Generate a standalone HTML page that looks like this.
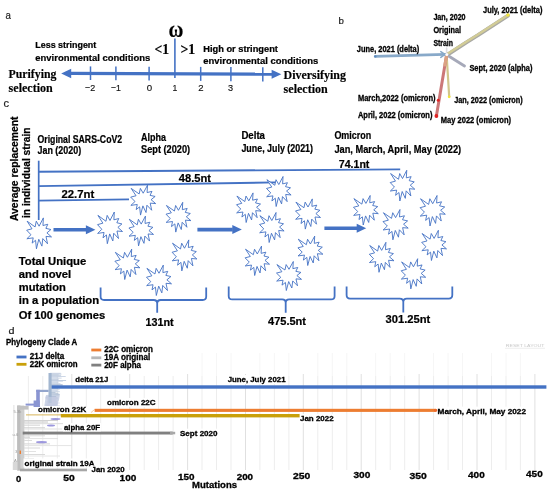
<!DOCTYPE html>
<html><head><meta charset="utf-8"><title>Figure</title>
<style>html,body{margin:0;padding:0;background:#fff;} svg{display:block;}</style></head>
<body><svg width="550" height="493" viewBox="0 0 550 493">
<rect width="550" height="493" fill="#fff"/>
<text x="5.6" y="18.8" font-family="'Liberation Sans', Arial, sans-serif" font-size="11.2" font-weight="normal" fill="#222" textLength="5.4" lengthAdjust="spacingAndGlyphs" stroke="#222" stroke-width="0.2">a</text>
<text x="35.3" y="48.2" font-family="'Liberation Sans', Arial, sans-serif" font-size="8.6" font-weight="bold" fill="#000" textLength="61.0" lengthAdjust="spacingAndGlyphs" stroke="#000" stroke-width="0.22">Less stringent</text>
<text x="35.3" y="61.0" font-family="'Liberation Sans', Arial, sans-serif" font-size="9.3" font-weight="bold" fill="#000" textLength="115.0" lengthAdjust="spacingAndGlyphs" stroke="#000" stroke-width="0.22">environmental conditions</text>
<text x="203.3" y="51.6" font-family="'Liberation Sans', Arial, sans-serif" font-size="8.6" font-weight="bold" fill="#000" textLength="74.6" lengthAdjust="spacingAndGlyphs" stroke="#000" stroke-width="0.22">High or stringent</text>
<text x="203.3" y="64.0" font-family="'Liberation Sans', Arial, sans-serif" font-size="9.3" font-weight="bold" fill="#000" textLength="115.0" lengthAdjust="spacingAndGlyphs" stroke="#000" stroke-width="0.22">environmental conditions</text>
<text x="8.6" y="78.3" font-family="'Liberation Serif', 'Times New Roman', serif" font-size="12" font-weight="bold" fill="#000" textLength="47.8" lengthAdjust="spacingAndGlyphs" stroke="#000" stroke-width="0.15">Purifying</text>
<text x="8.6" y="92.0" font-family="'Liberation Serif', 'Times New Roman', serif" font-size="12" font-weight="bold" fill="#000" textLength="44.2" lengthAdjust="spacingAndGlyphs" stroke="#000" stroke-width="0.15">selection</text>
<text x="283.6" y="78.9" font-family="'Liberation Serif', 'Times New Roman', serif" font-size="12" font-weight="bold" fill="#000" textLength="62.4" lengthAdjust="spacingAndGlyphs" stroke="#000" stroke-width="0.15">Diversifying</text>
<text x="283.6" y="93.1" font-family="'Liberation Serif', 'Times New Roman', serif" font-size="12" font-weight="bold" fill="#000" textLength="44.2" lengthAdjust="spacingAndGlyphs" stroke="#000" stroke-width="0.15">selection</text>
<text x="168.5" y="37.1" font-family="'Liberation Serif', 'Times New Roman', serif" font-size="23" font-weight="bold" fill="#000" textLength="14.9" lengthAdjust="spacingAndGlyphs" stroke="#000" stroke-width="0.15">&#969;</text>
<text x="154.6" y="54.0" font-family="'Liberation Serif', 'Times New Roman', serif" font-size="14.4" font-weight="bold" fill="#000" textLength="14.6" lengthAdjust="spacingAndGlyphs" stroke="#000" stroke-width="0.15">&lt;1</text>
<text x="180.4" y="54.0" font-family="'Liberation Serif', 'Times New Roman', serif" font-size="14.4" font-weight="bold" fill="#000" textLength="14.8" lengthAdjust="spacingAndGlyphs" stroke="#000" stroke-width="0.15">&gt;1</text>
<line x1="70" y1="73.3" x2="273" y2="74.2" stroke="#4472c4" stroke-width="3.2"/>
<polygon points="71.2,68.7 61.2,73.4 71.2,78.2" fill="#4472c4"/>
<polygon points="271.6,69.7 281.3,74.3 271.6,78.8" fill="#4472c4"/>
<line x1="90.5" y1="66.40" x2="90.5" y2="80.00" stroke="#4472c4" stroke-width="1.5"/>
<line x1="115.9" y1="66.52" x2="115.9" y2="80.21" stroke="#4472c4" stroke-width="1.5"/>
<line x1="149.1" y1="66.67" x2="149.1" y2="80.47" stroke="#4472c4" stroke-width="1.5"/>
<line x1="200.7" y1="66.90" x2="200.7" y2="80.89" stroke="#4472c4" stroke-width="1.5"/>
<line x1="230.9" y1="67.03" x2="230.9" y2="81.13" stroke="#4472c4" stroke-width="1.5"/>
<line x1="262.8" y1="67.18" x2="262.8" y2="81.38" stroke="#4472c4" stroke-width="1.5"/>
<line x1="174.9" y1="38.5" x2="174.9" y2="78" stroke="#4472c4" stroke-width="1.6"/>
<text x="85.0" y="91.0" font-family="'Liberation Sans', Arial, sans-serif" font-size="9.6" font-weight="normal" fill="#111" textLength="10.2" lengthAdjust="spacingAndGlyphs" stroke="#111" stroke-width="0.15">&#8722;2</text>
<text x="110.9" y="91.0" font-family="'Liberation Sans', Arial, sans-serif" font-size="9.6" font-weight="normal" fill="#111" textLength="10.0" lengthAdjust="spacingAndGlyphs" stroke="#111" stroke-width="0.15">&#8722;1</text>
<text x="146.8" y="91.0" font-family="'Liberation Sans', Arial, sans-serif" font-size="9.6" font-weight="normal" fill="#111" textLength="5.4" lengthAdjust="spacingAndGlyphs" stroke="#111" stroke-width="0.15">0</text>
<text x="172.6" y="91.0" font-family="'Liberation Sans', Arial, sans-serif" font-size="9.6" font-weight="normal" fill="#111" textLength="4.8" lengthAdjust="spacingAndGlyphs" stroke="#111" stroke-width="0.15">1</text>
<text x="198.2" y="91.0" font-family="'Liberation Sans', Arial, sans-serif" font-size="9.6" font-weight="normal" fill="#111" textLength="5.3" lengthAdjust="spacingAndGlyphs" stroke="#111" stroke-width="0.15">2</text>
<text x="227.9" y="91.0" font-family="'Liberation Sans', Arial, sans-serif" font-size="9.6" font-weight="normal" fill="#111" textLength="5.1" lengthAdjust="spacingAndGlyphs" stroke="#111" stroke-width="0.15">3</text>
<text x="338.6" y="23.6" font-family="'Liberation Sans', Arial, sans-serif" font-size="9.4" font-weight="normal" fill="#222" textLength="5.4" lengthAdjust="spacingAndGlyphs" stroke="#222" stroke-width="0.2">b</text>
<g stroke-linecap="round" stroke-linejoin="round" fill="none">
<line x1="446.6" y1="48" x2="446.6" y2="54" stroke="#dcdce0" stroke-width="1.6"/>
<path d="M448,54.4 L466,42.6 L478,35.2 L488,28.6 L508,15.6" stroke="#a9a9a4" stroke-width="3.8"/>
<path d="M448,53.6 L466,41.9 L478,34.4 L488,27.9 L508,14.9" stroke="#d2cc96" stroke-width="2.4"/>
<line x1="447" y1="55" x2="464.5" y2="66" stroke="#a6a9b9" stroke-width="2.8"/>
<line x1="446.6" y1="55" x2="449.2" y2="96.5" stroke="#d2c68c" stroke-width="2.2"/>
<line x1="446.6" y1="55" x2="436.4" y2="116" stroke="#cc7878" stroke-width="3"/>
<line x1="446.6" y1="55" x2="444.9" y2="65" stroke="#dba283" stroke-width="3"/>
<line x1="375.2" y1="56.3" x2="445" y2="54.4" stroke="#88a9c9" stroke-width="2.8"/>
<polyline points="440.8,51.6 445,54.4 440.8,57.4" stroke="#88a9c9" stroke-width="1.6"/>
</g>
<circle cx="508" cy="14.9" r="1.7" fill="#f2e43a"/>
<circle cx="449.2" cy="96.8" r="1.4" fill="#f2e43a"/>
<circle cx="438.3" cy="100.2" r="1.5" fill="#e02424"/>
<circle cx="436.4" cy="116" r="1.9" fill="#e02424"/>
<circle cx="375.3" cy="56.4" r="1.2" fill="#5a8ac0"/>
<circle cx="446.8" cy="54.4" r="1.5" fill="#fff"/>
<text x="356.8" y="51.6" font-family="'Liberation Sans', Arial, sans-serif" font-size="9.2" font-weight="bold" fill="#000" textLength="62.4" lengthAdjust="spacingAndGlyphs" stroke="#000" stroke-width="0.32">June, 2021 (delta)</text>
<text x="483.0" y="12.8" font-family="'Liberation Sans', Arial, sans-serif" font-size="9.2" font-weight="bold" fill="#000" textLength="59.4" lengthAdjust="spacingAndGlyphs" stroke="#000" stroke-width="0.32">July, 2021 (delta)</text>
<text x="433.4" y="20.0" font-family="'Liberation Sans', Arial, sans-serif" font-size="9.2" font-weight="bold" fill="#000" textLength="32.2" lengthAdjust="spacingAndGlyphs" stroke="#000" stroke-width="0.32">Jan, 2020</text>
<text x="433.4" y="33.0" font-family="'Liberation Sans', Arial, sans-serif" font-size="9.2" font-weight="bold" fill="#000" textLength="27.6" lengthAdjust="spacingAndGlyphs" stroke="#000" stroke-width="0.32">Original</text>
<text x="433.4" y="46.0" font-family="'Liberation Sans', Arial, sans-serif" font-size="9.2" font-weight="bold" fill="#000" textLength="19.6" lengthAdjust="spacingAndGlyphs" stroke="#000" stroke-width="0.32">Strain</text>
<text x="469.4" y="71.4" font-family="'Liberation Sans', Arial, sans-serif" font-size="9.2" font-weight="bold" fill="#000" textLength="63.0" lengthAdjust="spacingAndGlyphs" stroke="#000" stroke-width="0.32">Sept, 2020 (alpha)</text>
<text x="357.9" y="101.4" font-family="'Liberation Sans', Arial, sans-serif" font-size="9.2" font-weight="bold" fill="#000" textLength="77.6" lengthAdjust="spacingAndGlyphs" stroke="#000" stroke-width="0.32">March,2022 (omicron)</text>
<text x="357.9" y="118.0" font-family="'Liberation Sans', Arial, sans-serif" font-size="9.2" font-weight="bold" fill="#000" textLength="74.5" lengthAdjust="spacingAndGlyphs" stroke="#000" stroke-width="0.32">April, 2022 (omicron)</text>
<text x="454.2" y="103.0" font-family="'Liberation Sans', Arial, sans-serif" font-size="9.2" font-weight="bold" fill="#000" textLength="68.4" lengthAdjust="spacingAndGlyphs" stroke="#000" stroke-width="0.32">Jan, 2022 (omicron)</text>
<text x="440.8" y="123.0" font-family="'Liberation Sans', Arial, sans-serif" font-size="9.2" font-weight="bold" fill="#000" textLength="70.2" lengthAdjust="spacingAndGlyphs" stroke="#000" stroke-width="0.32">May 2022 (omicron)</text>
<text x="3.6" y="107.3" font-family="'Liberation Sans', Arial, sans-serif" font-size="10.5" font-weight="normal" fill="#222" textLength="5.6" lengthAdjust="spacingAndGlyphs" stroke="#222" stroke-width="0.2">c</text>
<text transform="translate(18.0,221) rotate(-90)" font-family="'Liberation Sans', Arial, sans-serif" font-size="10.5" font-weight="bold" textLength="104.5" lengthAdjust="spacingAndGlyphs" stroke="#000" stroke-width="0.22">Average replacement</text>
<text transform="translate(29.8,218) rotate(-90)" font-family="'Liberation Sans', Arial, sans-serif" font-size="10.5" font-weight="bold" textLength="90.5" lengthAdjust="spacingAndGlyphs" stroke="#000" stroke-width="0.22">in individual strain</text>
<text x="37.5" y="142.6" font-family="'Liberation Sans', Arial, sans-serif" font-size="10.0" font-weight="bold" fill="#000" textLength="84.6" lengthAdjust="spacingAndGlyphs" stroke="#000" stroke-width="0.22">Original SARS-CoV2</text>
<text x="37.5" y="153.7" font-family="'Liberation Sans', Arial, sans-serif" font-size="10.0" font-weight="bold" fill="#000" textLength="43.6" lengthAdjust="spacingAndGlyphs" stroke="#000" stroke-width="0.22">Jan (2020)</text>
<text x="141.1" y="140.7" font-family="'Liberation Sans', Arial, sans-serif" font-size="10.0" font-weight="bold" fill="#000" textLength="25.0" lengthAdjust="spacingAndGlyphs" stroke="#000" stroke-width="0.22">Alpha</text>
<text x="141.1" y="153.4" font-family="'Liberation Sans', Arial, sans-serif" font-size="10.0" font-weight="bold" fill="#000" textLength="49.0" lengthAdjust="spacingAndGlyphs" stroke="#000" stroke-width="0.22">Sept (2020)</text>
<text x="241.4" y="139.1" font-family="'Liberation Sans', Arial, sans-serif" font-size="10.0" font-weight="bold" fill="#000" textLength="23.6" lengthAdjust="spacingAndGlyphs" stroke="#000" stroke-width="0.22">Delta</text>
<text x="241.4" y="151.8" font-family="'Liberation Sans', Arial, sans-serif" font-size="10.0" font-weight="bold" fill="#000" textLength="71.6" lengthAdjust="spacingAndGlyphs" stroke="#000" stroke-width="0.22">June, July (2021)</text>
<text x="334.4" y="139.2" font-family="'Liberation Sans', Arial, sans-serif" font-size="10.0" font-weight="bold" fill="#000" textLength="36.8" lengthAdjust="spacingAndGlyphs" stroke="#000" stroke-width="0.22">Omicron</text>
<text x="334.4" y="152.6" font-family="'Liberation Sans', Arial, sans-serif" font-size="10.0" font-weight="bold" fill="#000" textLength="126.8" lengthAdjust="spacingAndGlyphs" stroke="#000" stroke-width="0.22">Jan, March, April, May (2022)</text>
<line x1="38.7" y1="160.7" x2="38.7" y2="220" stroke="#4472c4" stroke-width="1.7"/>
<line x1="38" y1="171.7" x2="400.2" y2="169.4" stroke="#4472c4" stroke-width="1.9"/>
<line x1="38" y1="186.1" x2="276" y2="182.4" stroke="#4472c4" stroke-width="1.9"/>
<line x1="38" y1="200.6" x2="129" y2="199.4" stroke="#4472c4" stroke-width="1.9"/>
<text x="338.8" y="167.8" font-family="'Liberation Sans', Arial, sans-serif" font-size="11.2" font-weight="bold" fill="#000" textLength="30.6" lengthAdjust="spacingAndGlyphs" stroke="#000" stroke-width="0.22">74.1nt</text>
<text x="178.8" y="181.6" font-family="'Liberation Sans', Arial, sans-serif" font-size="11.2" font-weight="bold" fill="#000" textLength="32.2" lengthAdjust="spacingAndGlyphs" stroke="#000" stroke-width="0.22">48.5nt</text>
<text x="61.4" y="198.0" font-family="'Liberation Sans', Arial, sans-serif" font-size="11.7" font-weight="bold" fill="#000" textLength="32.8" lengthAdjust="spacingAndGlyphs" stroke="#000" stroke-width="0.22">22.7nt</text>
<polygon points="39.10,226.20 43.37,217.90 42.95,225.52 47.80,224.28 45.88,228.36 50.92,229.54 46.92,232.89 51.50,236.91 46.03,236.41 47.53,243.79 42.80,238.58 41.91,246.13 38.79,239.27 36.44,248.80 35.56,240.26 32.17,243.10 33.21,237.84 26.86,238.77 30.97,234.74 26.70,230.22 32.01,228.80 27.12,221.18 35.10,226.94 36.29,221.18" fill="#fff" stroke="#4472c4" stroke-width="0.9" stroke-linejoin="miter"/>
<polygon points="143.20,193.23 147.51,185.20 147.08,192.57 151.97,191.37 150.03,195.33 155.12,196.46 151.08,199.70 155.70,203.60 150.19,203.12 151.70,210.25 146.93,205.21 146.03,212.52 142.89,205.87 140.52,215.10 139.63,206.83 136.21,209.59 137.26,204.49 130.86,205.39 135.01,201.50 130.70,197.13 136.06,195.74 131.13,188.38 139.16,193.95 140.37,188.38" fill="#fff" stroke="#4472c4" stroke-width="0.9" stroke-linejoin="miter"/>
<polygon points="110.00,220.51 114.31,212.00 113.88,219.81 118.77,218.54 116.83,222.74 121.92,223.94 117.88,227.37 122.50,231.50 116.99,230.99 118.50,238.56 113.73,233.22 112.83,240.97 109.69,233.92 107.32,243.70 106.43,234.93 103.01,237.85 104.06,232.45 97.66,233.41 101.81,229.28 97.50,224.64 102.86,223.18 97.93,215.37 105.96,221.28 107.17,215.37" fill="#fff" stroke="#4472c4" stroke-width="0.9" stroke-linejoin="miter"/>
<polygon points="141.20,224.10 145.44,216.10 145.02,223.45 149.83,222.25 147.92,226.19 152.93,227.33 148.95,230.55 153.50,234.44 148.08,233.96 149.57,241.06 144.87,236.05 143.99,243.33 140.89,236.70 138.56,245.90 137.69,237.66 134.32,240.40 135.35,235.33 129.05,236.22 133.14,232.35 128.90,227.99 134.17,226.61 129.32,219.27 137.23,224.82 138.41,219.27" fill="#fff" stroke="#4472c4" stroke-width="0.9" stroke-linejoin="miter"/>
<polygon points="178.45,210.30 182.74,202.30 182.32,209.65 187.19,208.45 185.25,212.39 190.32,213.53 186.30,216.75 190.90,220.64 185.41,220.16 186.92,227.26 182.16,222.25 181.27,229.53 178.14,222.90 175.78,232.10 174.89,223.86 171.49,226.60 172.53,221.53 166.16,222.42 170.29,218.55 166.00,214.19 171.33,212.81 166.43,205.47 174.43,211.02 175.63,205.47" fill="#fff" stroke="#4472c4" stroke-width="0.9" stroke-linejoin="miter"/>
<polygon points="127.40,257.26 131.71,249.10 131.28,256.59 136.17,255.37 134.23,259.40 139.32,260.55 135.28,263.84 139.90,267.80 134.39,267.31 135.90,274.57 131.13,269.45 130.23,276.88 127.09,270.12 124.72,279.50 123.83,271.09 120.41,273.89 121.46,268.72 115.06,269.63 119.21,265.67 114.90,261.22 120.26,259.82 115.33,252.33 123.36,257.99 124.57,252.33" fill="#fff" stroke="#4472c4" stroke-width="0.9" stroke-linejoin="miter"/>
<polygon points="184.50,248.22 188.77,239.90 188.35,247.54 193.20,246.30 191.28,250.40 196.32,251.58 192.32,254.93 196.90,258.97 191.43,258.47 192.93,265.87 188.20,260.65 187.31,268.23 184.19,261.33 181.84,270.90 180.96,262.33 177.57,265.18 178.61,259.90 172.25,260.84 176.37,256.80 172.10,252.26 177.41,250.83 172.52,243.19 180.50,248.97 181.69,243.19" fill="#fff" stroke="#4472c4" stroke-width="0.9" stroke-linejoin="miter"/>
<polygon points="159.00,273.26 163.31,265.10 162.88,272.59 167.77,271.37 165.83,275.40 170.92,276.55 166.88,279.84 171.50,283.80 165.99,283.31 167.50,290.57 162.73,285.45 161.83,292.88 158.69,286.12 156.32,295.50 155.43,287.09 152.01,289.89 153.06,284.72 146.66,285.63 150.81,281.67 146.50,277.22 151.86,275.82 146.93,268.33 154.96,273.99 156.17,268.33" fill="#fff" stroke="#4472c4" stroke-width="0.9" stroke-linejoin="miter"/>
<polygon points="278.80,184.56 283.04,176.50 282.62,183.90 287.43,182.69 285.52,186.66 290.53,187.80 286.55,191.05 291.10,194.96 285.68,194.47 287.17,201.63 282.47,196.58 281.59,203.91 278.49,197.24 276.16,206.50 275.29,198.20 271.92,200.97 272.95,195.86 266.65,196.76 270.74,192.85 266.50,188.47 271.77,187.08 266.92,179.69 274.83,185.28 276.01,179.69" fill="#fff" stroke="#4472c4" stroke-width="0.9" stroke-linejoin="miter"/>
<polygon points="248.80,200.85 253.04,192.90 252.62,200.20 257.43,199.01 255.52,202.92 260.53,204.05 256.55,207.25 261.10,211.11 255.68,210.64 257.17,217.70 252.47,212.71 251.59,219.95 248.49,213.37 246.16,222.50 245.29,214.31 241.92,217.04 242.95,212.00 236.65,212.89 240.74,209.04 236.50,204.71 241.77,203.34 236.92,196.05 244.83,201.56 246.01,196.05" fill="#fff" stroke="#4472c4" stroke-width="0.9" stroke-linejoin="miter"/>
<polygon points="271.80,220.56 276.04,212.50 275.62,219.90 280.43,218.69 278.52,222.66 283.53,223.80 279.55,227.05 284.10,230.96 278.68,230.47 280.17,237.63 275.47,232.58 274.59,239.91 271.49,233.24 269.16,242.50 268.29,234.20 264.92,236.97 265.95,231.86 259.65,232.76 263.74,228.85 259.50,224.47 264.77,223.08 259.92,215.69 267.83,221.28 269.01,215.69" fill="#fff" stroke="#4472c4" stroke-width="0.9" stroke-linejoin="miter"/>
<polygon points="308.00,207.01 312.31,198.90 311.88,206.35 316.77,205.13 314.83,209.13 319.92,210.28 315.88,213.55 320.50,217.48 314.99,216.99 316.50,224.20 311.73,219.11 310.83,226.50 307.69,219.78 305.32,229.10 304.43,220.75 301.01,223.53 302.06,218.39 295.66,219.29 299.81,215.36 295.50,210.95 300.86,209.55 295.93,202.11 303.96,207.74 305.17,202.11" fill="#fff" stroke="#4472c4" stroke-width="0.9" stroke-linejoin="miter"/>
<polygon points="310.40,243.99 314.71,236.10 314.28,243.35 319.17,242.17 317.23,246.06 322.32,247.18 318.28,250.36 322.90,254.19 317.39,253.72 318.90,260.73 314.13,255.78 313.23,262.96 310.09,256.43 307.72,265.50 306.83,257.37 303.41,260.08 304.46,255.07 298.06,255.95 302.21,252.13 297.90,247.83 303.26,246.47 298.33,239.22 306.36,244.70 307.57,239.22" fill="#fff" stroke="#4472c4" stroke-width="0.9" stroke-linejoin="miter"/>
<polygon points="257.30,253.99 261.50,246.10 261.09,253.35 265.86,252.17 263.97,256.06 268.93,257.18 264.99,260.36 269.50,264.19 264.12,263.72 265.60,270.73 260.94,265.78 260.06,272.96 257.00,266.43 254.68,275.50 253.82,267.37 250.48,270.08 251.50,265.07 245.25,265.95 249.30,262.13 245.10,257.83 250.33,256.47 245.52,249.22 253.36,254.70 254.53,249.22" fill="#fff" stroke="#4472c4" stroke-width="0.9" stroke-linejoin="miter"/>
<polygon points="289.00,269.29 293.31,261.50 292.88,268.65 297.77,267.48 295.83,271.32 300.92,272.42 296.88,275.56 301.50,279.34 295.99,278.88 297.50,285.79 292.73,280.91 291.83,288.00 288.69,281.55 286.32,290.50 285.43,282.48 282.01,285.15 283.06,280.21 276.66,281.08 280.81,277.31 276.50,273.07 281.86,271.73 276.93,264.58 284.96,269.99 286.17,264.58" fill="#fff" stroke="#4472c4" stroke-width="0.9" stroke-linejoin="miter"/>
<polygon points="402.50,178.54 406.74,170.30 406.32,177.87 411.13,176.63 409.22,180.70 414.23,181.87 410.25,185.19 414.80,189.19 409.38,188.69 410.87,196.02 406.17,190.85 405.29,198.35 402.19,191.53 399.86,201.00 398.99,192.51 395.62,195.34 396.65,190.11 390.35,191.03 394.44,187.04 390.20,182.54 395.47,181.13 390.62,173.56 398.53,179.28 399.71,173.56" fill="#fff" stroke="#4472c4" stroke-width="0.9" stroke-linejoin="miter"/>
<polygon points="365.90,203.42 370.17,195.50 369.75,202.77 374.60,201.59 372.68,205.49 377.72,206.61 373.72,209.81 378.30,213.65 372.83,213.18 374.33,220.21 369.60,215.24 368.71,222.46 365.59,215.90 363.24,225.00 362.36,216.84 358.97,219.56 360.01,214.53 353.65,215.42 357.77,211.58 353.50,207.27 358.81,205.90 353.92,198.63 361.90,204.13 363.09,198.63" fill="#fff" stroke="#4472c4" stroke-width="0.9" stroke-linejoin="miter"/>
<polygon points="395.60,217.64 399.94,209.50 399.51,216.97 404.44,215.75 402.49,219.76 407.61,220.91 403.54,224.19 408.20,228.14 402.64,227.65 404.17,234.88 399.36,229.78 398.45,237.19 395.29,230.45 392.90,239.80 392.00,231.42 388.56,234.21 389.61,229.05 383.16,229.96 387.34,226.02 383.00,221.58 388.40,220.18 383.43,212.72 391.53,218.37 392.74,212.72" fill="#fff" stroke="#4472c4" stroke-width="0.9" stroke-linejoin="miter"/>
<polygon points="432.70,203.69 437.04,195.50 436.61,203.02 441.54,201.79 439.59,205.83 444.71,206.99 440.64,210.29 445.30,214.27 439.74,213.77 441.27,221.05 436.46,215.91 435.55,223.37 432.39,216.59 430.00,226.00 429.10,217.57 425.66,220.38 426.71,215.18 420.26,216.10 424.44,212.13 420.10,207.66 425.50,206.26 420.53,198.74 428.63,204.42 429.84,198.74" fill="#fff" stroke="#4472c4" stroke-width="0.9" stroke-linejoin="miter"/>
<polygon points="434.10,238.41 438.37,230.30 437.95,237.75 442.80,236.53 440.88,240.53 445.92,241.68 441.92,244.95 446.50,248.88 441.03,248.39 442.53,255.60 437.80,250.51 436.91,257.90 433.79,251.18 431.44,260.50 430.56,252.15 427.17,254.93 428.21,249.79 421.85,250.69 425.97,246.76 421.70,242.35 427.01,240.95 422.12,233.51 430.10,239.14 431.29,233.51" fill="#fff" stroke="#4472c4" stroke-width="0.9" stroke-linejoin="miter"/>
<polygon points="381.65,250.36 385.91,242.30 385.49,249.70 390.32,248.49 388.40,252.46 393.42,253.60 389.43,256.85 394.00,260.76 388.55,260.28 390.05,267.43 385.33,262.38 384.45,269.71 381.34,263.04 379.00,272.30 378.12,264.00 374.75,266.77 375.78,261.66 369.45,262.56 373.56,258.65 369.30,254.27 374.59,252.88 369.72,245.49 377.66,251.08 378.85,245.49" fill="#fff" stroke="#4472c4" stroke-width="0.9" stroke-linejoin="miter"/>
<polygon points="413.45,266.81 417.67,258.70 417.26,266.15 422.05,264.93 420.14,268.93 425.13,270.08 421.17,273.35 425.70,277.28 420.30,276.79 421.78,284.00 417.10,278.91 416.23,286.30 413.15,279.58 410.82,288.90 409.95,280.55 406.60,283.33 407.63,278.19 401.35,279.09 405.42,275.16 401.20,270.75 406.45,269.35 401.62,261.91 409.49,267.54 410.67,261.91" fill="#fff" stroke="#4472c4" stroke-width="0.9" stroke-linejoin="miter"/>
<line x1="53.5" y1="229.8" x2="86.4" y2="229.8" stroke="#4472c4" stroke-width="3.6"/>
<polygon points="85.9,225.3 95.4,229.8 85.9,234.3" fill="#4472c4"/>
<line x1="197.4" y1="229.6" x2="232.8" y2="229.6" stroke="#4472c4" stroke-width="3.6"/>
<polygon points="232.3,225.1 241.8,229.6 232.3,234.1" fill="#4472c4"/>
<line x1="324.4" y1="228.2" x2="357.2" y2="228.2" stroke="#4472c4" stroke-width="3.6"/>
<polygon points="356.7,223.7 366.2,228.2 356.7,232.7" fill="#4472c4"/>
<path d="M100.6,287.5 L100.6,296.5 Q100.6,300.0 104.1,300.0 L153.7,300.0 Q157.2,300.0 157.2,303.5 L157.2,312.8 M157.2,303.5 Q157.2,300.0 160.7,300.0 L202.7,300.0 Q206.2,300.0 206.2,296.5 L206.2,287.5" fill="none" stroke="#4472c4" stroke-width="1.8"/>
<path d="M228.7,286.6 L228.7,295.9 Q228.7,299.4 232.2,299.4 L282.2,299.4 Q285.7,299.4 285.7,302.9 L285.7,312.8 M285.7,302.9 Q285.7,299.4 289.2,299.4 L331.1,299.4 Q334.6,299.4 334.6,295.9 L334.6,286.6" fill="none" stroke="#4472c4" stroke-width="1.8"/>
<path d="M346.6,286.5 L346.6,295.1 Q346.6,298.6 350.1,298.6 L399.8,298.6 Q403.3,298.6 403.3,302.1 L403.3,312.6 M403.3,302.1 Q403.3,298.6 406.8,298.6 L448.8,298.6 Q452.3,298.6 452.3,295.1 L452.3,286.5" fill="none" stroke="#4472c4" stroke-width="1.8"/>
<text x="145.5" y="325.8" font-family="'Liberation Sans', Arial, sans-serif" font-size="10.7" font-weight="bold" fill="#000" textLength="28.2" lengthAdjust="spacingAndGlyphs" stroke="#000" stroke-width="0.22">131nt</text>
<text x="268.0" y="325.2" font-family="'Liberation Sans', Arial, sans-serif" font-size="10.7" font-weight="bold" fill="#000" textLength="38.0" lengthAdjust="spacingAndGlyphs" stroke="#000" stroke-width="0.22">475.5nt</text>
<text x="385.5" y="323.0" font-family="'Liberation Sans', Arial, sans-serif" font-size="10.7" font-weight="bold" fill="#000" textLength="44.7" lengthAdjust="spacingAndGlyphs" stroke="#000" stroke-width="0.22">301.25nt</text>
<text x="18.8" y="264.6" font-family="'Liberation Sans', Arial, sans-serif" font-size="10.4" font-weight="bold" fill="#000" textLength="67.4" lengthAdjust="spacingAndGlyphs" stroke="#000" stroke-width="0.22">Total Unique</text>
<text x="18.8" y="278.1" font-family="'Liberation Sans', Arial, sans-serif" font-size="10.4" font-weight="bold" fill="#000" textLength="52.4" lengthAdjust="spacingAndGlyphs" stroke="#000" stroke-width="0.22">and novel</text>
<text x="18.8" y="291.1" font-family="'Liberation Sans', Arial, sans-serif" font-size="10.4" font-weight="bold" fill="#000" textLength="47.0" lengthAdjust="spacingAndGlyphs" stroke="#000" stroke-width="0.22">mutation</text>
<text x="18.8" y="304.2" font-family="'Liberation Sans', Arial, sans-serif" font-size="10.4" font-weight="bold" fill="#000" textLength="80.4" lengthAdjust="spacingAndGlyphs" stroke="#000" stroke-width="0.22">in a population</text>
<text x="18.8" y="318.6" font-family="'Liberation Sans', Arial, sans-serif" font-size="10.4" font-weight="bold" fill="#000" textLength="86.4" lengthAdjust="spacingAndGlyphs" stroke="#000" stroke-width="0.22">Of 100 genomes</text>
<text x="8.6" y="334.4" font-family="'Liberation Sans', Arial, sans-serif" font-size="9.6" font-weight="normal" fill="#222" textLength="6.0" lengthAdjust="spacingAndGlyphs" stroke="#222" stroke-width="0.2">d</text>
<text x="6.0" y="345.0" font-family="'Liberation Sans', Arial, sans-serif" font-size="8.4" font-weight="bold" fill="#000" textLength="71.2" lengthAdjust="spacingAndGlyphs" stroke="#000" stroke-width="0.3">Phylogeny Clade A</text>
<rect x="16.5" y="355.6" width="10" height="2.8" fill="#4472c4"/>
<text x="29.8" y="358.7" font-family="'Liberation Sans', Arial, sans-serif" font-size="8.2" font-weight="bold" fill="#000" textLength="34.4" lengthAdjust="spacingAndGlyphs" stroke="#000" stroke-width="0.3">21J delta</text>
<rect x="16.5" y="362.9" width="10" height="2.8" fill="#c9a00a"/>
<text x="29.8" y="366.7" font-family="'Liberation Sans', Arial, sans-serif" font-size="8.2" font-weight="bold" fill="#000" textLength="47.8" lengthAdjust="spacingAndGlyphs" stroke="#000" stroke-width="0.3">22K omicron</text>
<rect x="91.3" y="348.6" width="10" height="2.8" fill="#ed7d31"/>
<text x="104.2" y="352.3" font-family="'Liberation Sans', Arial, sans-serif" font-size="8.2" font-weight="bold" fill="#000" textLength="48.6" lengthAdjust="spacingAndGlyphs" stroke="#000" stroke-width="0.3">22C omicron</text>
<rect x="91.3" y="356.4" width="10" height="2.8" fill="#b8b8b8"/>
<text x="104.2" y="360.0" font-family="'Liberation Sans', Arial, sans-serif" font-size="8.2" font-weight="bold" fill="#000" textLength="46.0" lengthAdjust="spacingAndGlyphs" stroke="#000" stroke-width="0.3">19A original</text>
<rect x="91.3" y="363.7" width="10" height="2.8" fill="#808080"/>
<text x="104.2" y="367.7" font-family="'Liberation Sans', Arial, sans-serif" font-size="8.2" font-weight="bold" fill="#000" textLength="36.8" lengthAdjust="spacingAndGlyphs" stroke="#000" stroke-width="0.3">20F alpha</text>
<text x="505.8" y="346.6" font-family="'Liberation Sans', Arial, sans-serif" font-size="4.2" font-weight="normal" fill="#c8c8c8" textLength="38.6" lengthAdjust="spacingAndGlyphs">RESET LAYOUT</text>
<line x1="505" y1="348.3" x2="545" y2="348.3" stroke="#e8e8e8" stroke-width="0.8"/>
<line x1="13.9" y1="405" x2="13.9" y2="470" stroke="#e0e0e0" stroke-width="1"/>
<line x1="28.4" y1="376" x2="28.4" y2="470" stroke="#ededed" stroke-width="1"/>
<line x1="42.8" y1="376" x2="42.8" y2="470" stroke="#ededed" stroke-width="1"/>
<line x1="57.3" y1="376" x2="57.3" y2="470" stroke="#ededed" stroke-width="1"/>
<line x1="71.8" y1="374" x2="71.8" y2="470" stroke="#e0e0e0" stroke-width="1"/>
<line x1="86.3" y1="376" x2="86.3" y2="470" stroke="#ededed" stroke-width="1"/>
<line x1="100.7" y1="376" x2="100.7" y2="470" stroke="#ededed" stroke-width="1"/>
<line x1="115.2" y1="376" x2="115.2" y2="470" stroke="#ededed" stroke-width="1"/>
<line x1="129.7" y1="374" x2="129.7" y2="470" stroke="#e0e0e0" stroke-width="1"/>
<line x1="144.2" y1="376" x2="144.2" y2="470" stroke="#ededed" stroke-width="1"/>
<line x1="158.6" y1="376" x2="158.6" y2="470" stroke="#ededed" stroke-width="1"/>
<line x1="173.1" y1="376" x2="173.1" y2="470" stroke="#ededed" stroke-width="1"/>
<line x1="187.6" y1="374" x2="187.6" y2="470" stroke="#e0e0e0" stroke-width="1"/>
<line x1="202.0" y1="353" x2="202.0" y2="376" stroke="#f6f6f6" stroke-width="1"/>
<line x1="202.0" y1="376" x2="202.0" y2="470" stroke="#ededed" stroke-width="1"/>
<line x1="216.5" y1="353" x2="216.5" y2="376" stroke="#f6f6f6" stroke-width="1"/>
<line x1="216.5" y1="376" x2="216.5" y2="470" stroke="#ededed" stroke-width="1"/>
<line x1="231.0" y1="353" x2="231.0" y2="376" stroke="#f6f6f6" stroke-width="1"/>
<line x1="231.0" y1="376" x2="231.0" y2="470" stroke="#ededed" stroke-width="1"/>
<line x1="245.5" y1="374" x2="245.5" y2="470" stroke="#e0e0e0" stroke-width="1"/>
<line x1="259.9" y1="353" x2="259.9" y2="376" stroke="#f6f6f6" stroke-width="1"/>
<line x1="259.9" y1="376" x2="259.9" y2="470" stroke="#ededed" stroke-width="1"/>
<line x1="274.4" y1="353" x2="274.4" y2="376" stroke="#f6f6f6" stroke-width="1"/>
<line x1="274.4" y1="376" x2="274.4" y2="470" stroke="#ededed" stroke-width="1"/>
<line x1="288.9" y1="353" x2="288.9" y2="376" stroke="#f6f6f6" stroke-width="1"/>
<line x1="288.9" y1="376" x2="288.9" y2="470" stroke="#ededed" stroke-width="1"/>
<line x1="303.3" y1="374" x2="303.3" y2="470" stroke="#e0e0e0" stroke-width="1"/>
<line x1="317.8" y1="353" x2="317.8" y2="376" stroke="#f6f6f6" stroke-width="1"/>
<line x1="317.8" y1="376" x2="317.8" y2="470" stroke="#ededed" stroke-width="1"/>
<line x1="332.3" y1="353" x2="332.3" y2="376" stroke="#f6f6f6" stroke-width="1"/>
<line x1="332.3" y1="376" x2="332.3" y2="470" stroke="#ededed" stroke-width="1"/>
<line x1="346.8" y1="353" x2="346.8" y2="376" stroke="#f6f6f6" stroke-width="1"/>
<line x1="346.8" y1="376" x2="346.8" y2="470" stroke="#ededed" stroke-width="1"/>
<line x1="361.2" y1="374" x2="361.2" y2="470" stroke="#e0e0e0" stroke-width="1"/>
<line x1="375.7" y1="353" x2="375.7" y2="376" stroke="#f6f6f6" stroke-width="1"/>
<line x1="375.7" y1="376" x2="375.7" y2="470" stroke="#ededed" stroke-width="1"/>
<line x1="390.2" y1="353" x2="390.2" y2="376" stroke="#f6f6f6" stroke-width="1"/>
<line x1="390.2" y1="376" x2="390.2" y2="470" stroke="#ededed" stroke-width="1"/>
<line x1="404.7" y1="353" x2="404.7" y2="376" stroke="#f6f6f6" stroke-width="1"/>
<line x1="404.7" y1="376" x2="404.7" y2="470" stroke="#ededed" stroke-width="1"/>
<line x1="419.1" y1="374" x2="419.1" y2="470" stroke="#e0e0e0" stroke-width="1"/>
<line x1="433.6" y1="353" x2="433.6" y2="376" stroke="#f6f6f6" stroke-width="1"/>
<line x1="433.6" y1="376" x2="433.6" y2="470" stroke="#ededed" stroke-width="1"/>
<line x1="448.1" y1="353" x2="448.1" y2="376" stroke="#f6f6f6" stroke-width="1"/>
<line x1="448.1" y1="376" x2="448.1" y2="470" stroke="#ededed" stroke-width="1"/>
<line x1="462.5" y1="353" x2="462.5" y2="376" stroke="#f6f6f6" stroke-width="1"/>
<line x1="462.5" y1="376" x2="462.5" y2="470" stroke="#ededed" stroke-width="1"/>
<line x1="477.0" y1="374" x2="477.0" y2="470" stroke="#e0e0e0" stroke-width="1"/>
<line x1="491.5" y1="353" x2="491.5" y2="376" stroke="#f6f6f6" stroke-width="1"/>
<line x1="491.5" y1="376" x2="491.5" y2="470" stroke="#ededed" stroke-width="1"/>
<line x1="506.0" y1="353" x2="506.0" y2="376" stroke="#f6f6f6" stroke-width="1"/>
<line x1="506.0" y1="376" x2="506.0" y2="470" stroke="#ededed" stroke-width="1"/>
<line x1="520.4" y1="353" x2="520.4" y2="376" stroke="#f6f6f6" stroke-width="1"/>
<line x1="520.4" y1="376" x2="520.4" y2="470" stroke="#ededed" stroke-width="1"/>
<line x1="534.9" y1="374" x2="534.9" y2="470" stroke="#e0e0e0" stroke-width="1"/>
<text x="16.1" y="481.8" font-family="'Liberation Sans', Arial, sans-serif" font-size="9.0" font-weight="bold" fill="#000" textLength="5.2" lengthAdjust="spacingAndGlyphs" stroke="#000" stroke-width="0.3">0</text>
<text x="63.2" y="481.2" font-family="'Liberation Sans', Arial, sans-serif" font-size="9.0" font-weight="bold" fill="#000" textLength="11.5" lengthAdjust="spacingAndGlyphs" stroke="#000" stroke-width="0.3">50</text>
<text x="119.6" y="480.8" font-family="'Liberation Sans', Arial, sans-serif" font-size="9.0" font-weight="bold" fill="#000" textLength="16.8" lengthAdjust="spacingAndGlyphs" stroke="#000" stroke-width="0.3">100</text>
<text x="178.1" y="480.0" font-family="'Liberation Sans', Arial, sans-serif" font-size="9.0" font-weight="bold" fill="#000" textLength="16.5" lengthAdjust="spacingAndGlyphs" stroke="#000" stroke-width="0.3">150</text>
<text x="236.7" y="479.6" font-family="'Liberation Sans', Arial, sans-serif" font-size="9.0" font-weight="bold" fill="#000" textLength="16.4" lengthAdjust="spacingAndGlyphs" stroke="#000" stroke-width="0.3">200</text>
<text x="293.1" y="478.9" font-family="'Liberation Sans', Arial, sans-serif" font-size="9.0" font-weight="bold" fill="#000" textLength="17.3" lengthAdjust="spacingAndGlyphs" stroke="#000" stroke-width="0.3">250</text>
<text x="353.4" y="478.4" font-family="'Liberation Sans', Arial, sans-serif" font-size="9.0" font-weight="bold" fill="#000" textLength="16.9" lengthAdjust="spacingAndGlyphs" stroke="#000" stroke-width="0.3">300</text>
<text x="409.6" y="479.0" font-family="'Liberation Sans', Arial, sans-serif" font-size="9.0" font-weight="bold" fill="#000" textLength="17.3" lengthAdjust="spacingAndGlyphs" stroke="#000" stroke-width="0.3">350</text>
<text x="468.1" y="478.4" font-family="'Liberation Sans', Arial, sans-serif" font-size="9.0" font-weight="bold" fill="#000" textLength="16.6" lengthAdjust="spacingAndGlyphs" stroke="#000" stroke-width="0.3">400</text>
<text x="526.1" y="477.4" font-family="'Liberation Sans', Arial, sans-serif" font-size="9.0" font-weight="bold" fill="#000" textLength="16.6" lengthAdjust="spacingAndGlyphs" stroke="#000" stroke-width="0.3">450</text>
<text x="192.0" y="487.9" font-family="'Liberation Sans', Arial, sans-serif" font-size="9.5" font-weight="bold" fill="#000" textLength="45.0" lengthAdjust="spacingAndGlyphs" stroke="#000" stroke-width="0.3">Mutations</text>
<rect x="17.2" y="405.5" width="7.2" height="65" fill="#cfcfcf"/>
<rect x="17.2" y="405.5" width="3.2" height="65" fill="#bdbdbd"/>
<rect x="12.8" y="462" width="4.6" height="8" fill="#d8d8d8"/>
<rect x="17.2" y="406" width="11.3" height="3.6" fill="#c2c2c2"/>
<line x1="24" y1="420.5" x2="58" y2="420.5" stroke="#d2d2d2" stroke-width="1"/>
<line x1="24" y1="422" x2="48" y2="422" stroke="#c8c8c8" stroke-width="1"/>
<line x1="24" y1="423.7" x2="70" y2="423.7" stroke="#dcdcdc" stroke-width="1"/>
<line x1="24" y1="425.2" x2="40" y2="425.2" stroke="#d4d4d4" stroke-width="1"/>
<line x1="24" y1="427.8" x2="45" y2="427.8" stroke="#cfcfcf" stroke-width="1"/>
<line x1="24" y1="429" x2="62" y2="429" stroke="#e0e0e0" stroke-width="1"/>
<line x1="24" y1="435.8" x2="45" y2="435.8" stroke="#dadada" stroke-width="1"/>
<line x1="24" y1="437.2" x2="30" y2="437.2" stroke="#d0d0d0" stroke-width="1"/>
<line x1="24" y1="438.6" x2="58" y2="438.6" stroke="#e2e2e2" stroke-width="1"/>
<line x1="24" y1="440.5" x2="32" y2="440.5" stroke="#dcdcdc" stroke-width="1"/>
<line x1="24" y1="443.9" x2="50" y2="443.9" stroke="#d4d4d4" stroke-width="1"/>
<line x1="24" y1="445.6" x2="72" y2="445.6" stroke="#e4e4e4" stroke-width="1"/>
<line x1="24" y1="448" x2="40" y2="448" stroke="#d8d8d8" stroke-width="1"/>
<line x1="24" y1="451.5" x2="36" y2="451.5" stroke="#e2e2e2" stroke-width="1"/>
<line x1="24" y1="454.5" x2="45" y2="454.5" stroke="#dadada" stroke-width="1"/>
<line x1="24" y1="456" x2="60" y2="456" stroke="#e6e6e6" stroke-width="1"/>
<line x1="24" y1="458.5" x2="34" y2="458.5" stroke="#e0e0e0" stroke-width="1"/>
<line x1="24" y1="461" x2="28" y2="461" stroke="#dcdcdc" stroke-width="1"/>
<ellipse cx="55.5" cy="419" rx="5" ry="1.1" fill="#8c86d8" opacity="0.85"/>
<ellipse cx="51" cy="425.5" rx="4" ry="1.1" fill="#8c86d8" opacity="0.85"/>
<ellipse cx="41.5" cy="442.2" rx="5.5" ry="1.1" fill="#8c86d8" opacity="0.85"/>
<text x="13.5" y="413.4" font-family="'Liberation Sans', Arial, sans-serif" font-size="4.2" font-weight="normal" fill="#9a9a9a">5.3k</text>
<text x="12.5" y="436.0" font-family="'Liberation Sans', Arial, sans-serif" font-size="4.2" font-weight="normal" fill="#9a9a9a">u.6</text>
<text x="15.0" y="452.5" font-family="'Liberation Sans', Arial, sans-serif" font-size="4.2" font-weight="normal" fill="#9a9a9a">3</text>
<text x="14.0" y="462.0" font-family="'Liberation Sans', Arial, sans-serif" font-size="4.2" font-weight="normal" fill="#9a9a9a">A</text>
<rect x="19.6" y="450.6" width="1.4" height="3.4" fill="#ed7d31"/>
<path d="M46,395 L60,394 L59,400 L56,407.5 L44,407.5 Z" fill="#cdd5e6"/>
<line x1="50" y1="373.3" x2="60.8" y2="373.3" stroke="#bccade" stroke-width="0.75"/>
<line x1="50" y1="374.1" x2="61.4" y2="374.1" stroke="#b2c2d8" stroke-width="0.75"/>
<line x1="50" y1="374.9" x2="58.6" y2="374.9" stroke="#b2c2d8" stroke-width="0.75"/>
<line x1="50" y1="375.7" x2="61.1" y2="375.7" stroke="#b2c2d8" stroke-width="0.75"/>
<line x1="50" y1="376.5" x2="65.7" y2="376.5" stroke="#bccade" stroke-width="0.75"/>
<line x1="50" y1="377.3" x2="58.3" y2="377.3" stroke="#c6d2e3" stroke-width="0.75"/>
<line x1="50" y1="378.1" x2="61.6" y2="378.1" stroke="#bccade" stroke-width="0.75"/>
<line x1="50" y1="378.9" x2="58.8" y2="378.9" stroke="#c6d2e3" stroke-width="0.75"/>
<line x1="50" y1="379.7" x2="58.5" y2="379.7" stroke="#b2c2d8" stroke-width="0.75"/>
<line x1="50" y1="380.5" x2="66.1" y2="380.5" stroke="#b2c2d8" stroke-width="0.75"/>
<line x1="50" y1="381.3" x2="62.9" y2="381.3" stroke="#c6d2e3" stroke-width="0.75"/>
<line x1="50" y1="382.1" x2="58.4" y2="382.1" stroke="#bccade" stroke-width="0.75"/>
<line x1="50" y1="382.9" x2="58.4" y2="382.9" stroke="#bccade" stroke-width="0.75"/>
<line x1="50" y1="383.7" x2="60.5" y2="383.7" stroke="#bccade" stroke-width="0.75"/>
<line x1="50" y1="384.5" x2="62.6" y2="384.5" stroke="#a9bad2" stroke-width="0.75"/>
<line x1="50" y1="385.3" x2="62.8" y2="385.3" stroke="#bccade" stroke-width="0.75"/>
<line x1="50" y1="386.1" x2="58.9" y2="386.1" stroke="#bccade" stroke-width="0.75"/>
<line x1="50" y1="386.9" x2="61.2" y2="386.9" stroke="#b2c2d8" stroke-width="0.75"/>
<line x1="50" y1="387.7" x2="58.4" y2="387.7" stroke="#bccade" stroke-width="0.75"/>
<line x1="50" y1="388.5" x2="58.0" y2="388.5" stroke="#c6d2e3" stroke-width="0.75"/>
<line x1="50" y1="389.3" x2="59.7" y2="389.3" stroke="#c6d2e3" stroke-width="0.75"/>
<line x1="50" y1="390.1" x2="58.5" y2="390.1" stroke="#c6d2e3" stroke-width="0.75"/>
<line x1="50" y1="390.9" x2="57.2" y2="390.9" stroke="#bccade" stroke-width="0.75"/>
<line x1="50" y1="391.7" x2="59.8" y2="391.7" stroke="#bccade" stroke-width="0.75"/>
<line x1="50" y1="392.5" x2="55.5" y2="392.5" stroke="#a9bad2" stroke-width="0.75"/>
<line x1="50" y1="393.3" x2="58.2" y2="393.3" stroke="#a9bad2" stroke-width="0.75"/>
<line x1="50" y1="394.1" x2="59.4" y2="394.1" stroke="#a9bad2" stroke-width="0.75"/>
<line x1="50" y1="394.9" x2="58.7" y2="394.9" stroke="#b2c2d8" stroke-width="0.75"/>
<line x1="50" y1="395.7" x2="55.7" y2="395.7" stroke="#c6d2e3" stroke-width="0.75"/>
<line x1="50" y1="396.5" x2="56.0" y2="396.5" stroke="#a9bad2" stroke-width="0.75"/>
<line x1="45.5" y1="397.0" x2="56.9" y2="397.0" stroke="#bcc4de" stroke-width="0.6"/>
<line x1="45.1" y1="398.0" x2="58.0" y2="398.0" stroke="#bcc4de" stroke-width="0.6"/>
<line x1="47.3" y1="399.0" x2="57.4" y2="399.0" stroke="#bcc4de" stroke-width="0.6"/>
<line x1="47.6" y1="400.0" x2="55.9" y2="400.0" stroke="#bcc4de" stroke-width="0.6"/>
<line x1="47.1" y1="401.0" x2="57.6" y2="401.0" stroke="#bcc4de" stroke-width="0.6"/>
<line x1="46.7" y1="402.0" x2="56.7" y2="402.0" stroke="#bcc4de" stroke-width="0.6"/>
<line x1="47.5" y1="403.0" x2="59.7" y2="403.0" stroke="#bcc4de" stroke-width="0.6"/>
<line x1="46.4" y1="404.0" x2="58.0" y2="404.0" stroke="#bcc4de" stroke-width="0.6"/>
<line x1="45.2" y1="405.0" x2="58.2" y2="405.0" stroke="#bcc4de" stroke-width="0.6"/>
<line x1="46.9" y1="406.0" x2="60.0" y2="406.0" stroke="#bcc4de" stroke-width="0.6"/>
<rect x="48.5" y="373" width="3.1" height="24" fill="#a2b6d0"/>
<rect x="48.5" y="397" width="3.1" height="6" fill="#b8c6dc"/>
<line x1="36.2" y1="390.9" x2="48.6" y2="390.9" stroke="#94a6cc" stroke-width="2.2"/>
<rect x="36.2" y="389.8" width="3.6" height="17.2" fill="#8a95d2"/>
<rect x="33.6" y="400.5" width="6.2" height="6.5" fill="#8a95d2"/>
<line x1="25.6" y1="404.6" x2="34" y2="404.6" stroke="#8a95d2" stroke-width="2"/>
<rect x="51.6" y="385.3" width="494.8" height="3.4" fill="#4472c4"/>
<line x1="26" y1="414.9" x2="61" y2="414.9" stroke="#d8b458" stroke-width="1"/>
<rect x="60.8" y="414.0" width="238.8" height="3.4" fill="#c9a00a"/>
<path d="M91,412.5 L94.5,409.6" fill="none" stroke="#f6c6a0" stroke-width="1"/>
<rect x="94.6" y="408.8" width="340.9" height="3.1" fill="#ed7d31"/>
<circle cx="435.6" cy="410.35" r="1.7" fill="#ec6a2c"/>
<rect x="22.7" y="431.6" width="150" height="2.9" fill="#808080"/>
<rect x="170" y="431.8" width="5.2" height="2.5" fill="#a8a8a8"/>
<rect x="20" y="468.7" width="67" height="2.6" fill="#a6a6a6"/>
<rect x="74.2" y="374.5" width="35.0" height="9" fill="#fff"/>
<text x="75.2" y="381.5" font-family="'Liberation Sans', Arial, sans-serif" font-size="7.8" font-weight="bold" fill="#000" textLength="33.0" lengthAdjust="spacingAndGlyphs" stroke="#000" stroke-width="0.3">delta 21J</text>
<rect x="226.7" y="375.0" width="59.8" height="9" fill="#fff"/>
<text x="227.7" y="382.0" font-family="'Liberation Sans', Arial, sans-serif" font-size="7.8" font-weight="bold" fill="#000" textLength="57.8" lengthAdjust="spacingAndGlyphs" stroke="#000" stroke-width="0.3">June, July 2021</text>
<rect x="106.0" y="398.0" width="50.6" height="9" fill="#fff"/>
<text x="107.0" y="405.0" font-family="'Liberation Sans', Arial, sans-serif" font-size="7.8" font-weight="bold" fill="#000" textLength="48.6" lengthAdjust="spacingAndGlyphs" stroke="#000" stroke-width="0.3">omicron 22C</text>
<rect x="40.0" y="406.0" width="47.4" height="7.6" fill="#fff"/>
<text x="38.0" y="411.6" font-family="'Liberation Sans', Arial, sans-serif" font-size="7.8" font-weight="bold" fill="#000" textLength="48.4" lengthAdjust="spacingAndGlyphs" stroke="#000" stroke-width="0.3">omicron 22K</text>
<rect x="437.6" y="406.6" width="89.4" height="9" fill="#fff"/>
<text x="437.6" y="413.6" font-family="'Liberation Sans', Arial, sans-serif" font-size="7.8" font-weight="bold" fill="#000" textLength="88.4" lengthAdjust="spacingAndGlyphs" stroke="#000" stroke-width="0.3">March, April, May 2022</text>
<rect x="300.0" y="414.0" width="34.6" height="9" fill="#fff"/>
<text x="300.0" y="421.0" font-family="'Liberation Sans', Arial, sans-serif" font-size="7.8" font-weight="bold" fill="#000" textLength="33.6" lengthAdjust="spacingAndGlyphs" stroke="#000" stroke-width="0.3">Jan 2022</text>
<rect x="63.0" y="423.0" width="38.0" height="8.4" fill="#fff"/>
<text x="64.0" y="430.0" font-family="'Liberation Sans', Arial, sans-serif" font-size="7.8" font-weight="bold" fill="#000" textLength="36.0" lengthAdjust="spacingAndGlyphs" stroke="#000" stroke-width="0.3">alpha 20F</text>
<rect x="179.0" y="428.7" width="39.5" height="9" fill="#fff"/>
<text x="180.0" y="435.7" font-family="'Liberation Sans', Arial, sans-serif" font-size="7.8" font-weight="bold" fill="#000" textLength="37.5" lengthAdjust="spacingAndGlyphs" stroke="#000" stroke-width="0.3">Sept 2020</text>
<rect x="23.5" y="458.5" width="72.0" height="9" fill="#fff"/>
<text x="24.5" y="465.5" font-family="'Liberation Sans', Arial, sans-serif" font-size="7.8" font-weight="bold" fill="#000" textLength="70.0" lengthAdjust="spacingAndGlyphs" stroke="#000" stroke-width="0.3">original strain 19A</text>
<rect x="90.6" y="465.4" width="35.1" height="9" fill="#fff"/>
<text x="91.6" y="472.4" font-family="'Liberation Sans', Arial, sans-serif" font-size="7.8" font-weight="bold" fill="#000" textLength="33.1" lengthAdjust="spacingAndGlyphs" stroke="#000" stroke-width="0.3">Jan 2020</text>
</svg></body></html>
